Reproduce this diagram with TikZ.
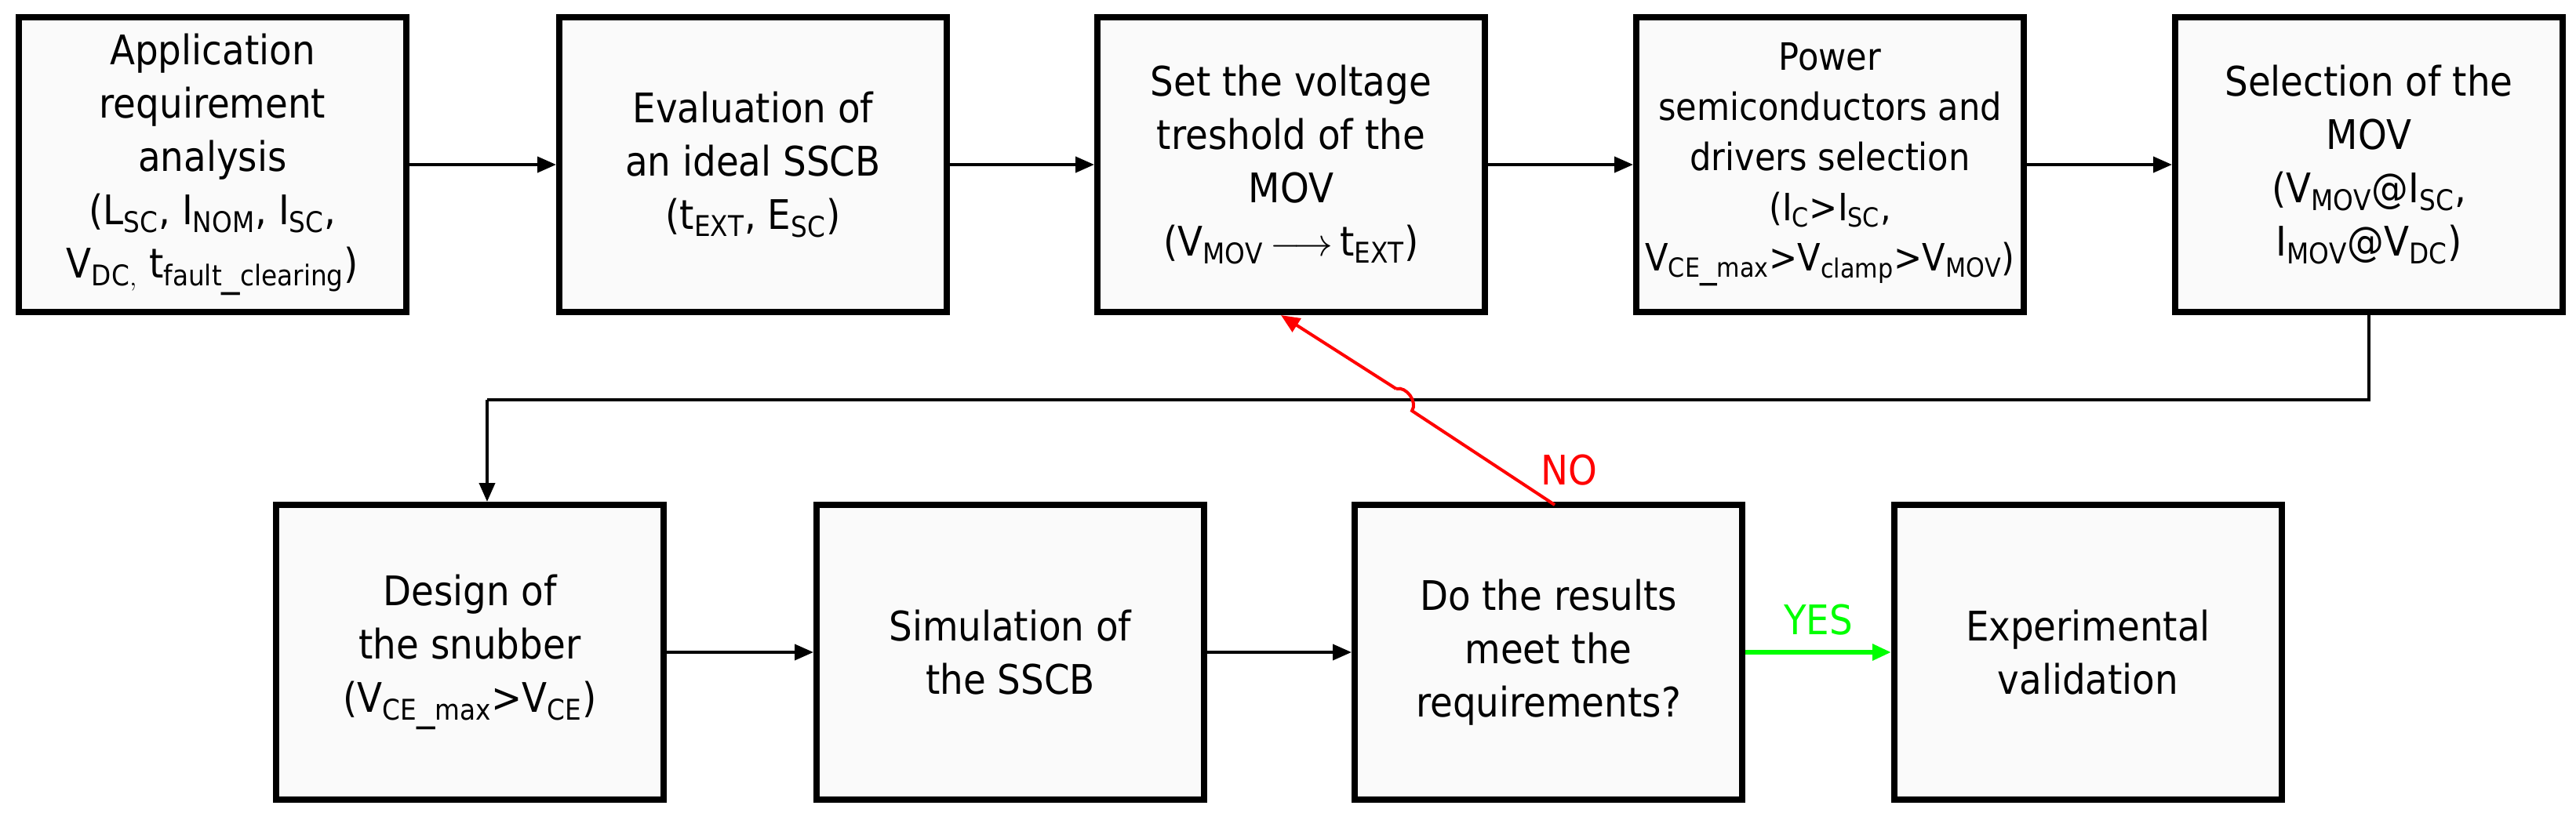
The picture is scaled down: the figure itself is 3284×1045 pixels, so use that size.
\documentclass[tikz,border=0pt]{standalone}
\usepackage{fontspec}
\setmainfont{DejaVu Sans Condensed}
\usetikzlibrary{arrows.meta}
\definecolor{boxfill}{rgb}{0.98,0.98,0.98}
\definecolor{nocolor}{rgb}{1,0,0}
\definecolor{yescolor}{rgb}{0,1,0}
\begin{document}
\begin{tikzpicture}[x=0.5pt,y=-0.5pt,
  stage/.style={draw=black,line width=4pt,fill=boxfill,minimum width=247pt,minimum height=188pt,
    align=center,inner sep=2pt,font=\fontsize{26}{34}\selectfont},
  flow/.style={-{Triangle[length=12pt,width=10pt]},line width=2pt}]
\useasboundingbox (0,0) rectangle (3284,1045);
% top row
\node[stage] (req) at (271,210) {Application\\requirement\\analysis\\(L$_{\rm SC}$, I$_{\rm NOM}$, I$_{\rm SC}$,\\V$_{\rm DC,}$ t$_{\rm fault\_clearing}$)};
\node[stage] (ideal) at (960,210) {Evaluation of\\an ideal SSCB\\(t$_{\rm EXT}$, E$_{\rm SC}$)};
\node[stage] (thr) at (1646,210) {Set the voltage\\treshold of the\\MOV\\(V$_{\rm MOV}$\,$\longrightarrow$\,t$_{\rm EXT}$)};
\node[stage,font=\fontsize{24}{32}\selectfont] (semi) at (2333,210) {Power\\semiconductors and\\drivers selection\\(I$_{\rm C}$>I$_{\rm SC}$,\\V$_{\rm CE\_max}$>V$_{\rm clamp}$>V$_{\rm MOV}$)};
\node[stage] (mov) at (3020,210) {Selection of the\\MOV\\(V$_{\rm MOV}$@I$_{\rm SC}$,\\I$_{\rm MOV}$@V$_{\rm DC}$)};
% bottom row
\node[stage] (snub) at (599,832) {Design of\\the snubber\\(V$_{\rm CE\_max}$>V$_{\rm CE}$)};
\node[stage] (sim) at (1288,832) {Simulation of\\the SSCB};
\node[stage] (check) at (1974,832) {Do the results\\meet the\\requirements?};
\node[stage] (exp) at (2662,832) {Experimental\\validation};
\coordinate (turn) at (3024,510);
\coordinate (back) at (621,510);
\draw[flow] (req) -- (ideal);
\draw[flow] (ideal) -- (thr);
\draw[flow] (thr) -- (semi);
\draw[flow] (semi) -- (mov);
\draw[line width=2pt] (mov.south) |- (back);
\draw[flow] (back) -- (snub.north -| back);
\draw[flow] (snub) -- (sim);
\draw[flow] (sim) -- (check);
\draw[flow,line width=3pt,draw=yescolor,-{Triangle[length=12pt,width=10pt,fill=yescolor]}] (check) -- node[above=6pt,text=yescolor,font=\fontsize{26}{30}\selectfont]{YES} (exp);
% NO loop back
\coordinate (noA) at (1982,644);
\coordinate (noB) at (1800,524);
\coordinate (noC) at (1780,496);
\coordinate (noD) at (1633,402);
\draw[line width=2pt,nocolor] (noA) -- (noB) to[bend right=70] (noC);
\draw[line width=2pt,nocolor,-{Triangle[length=12pt,width=10pt]}] (noC) -- (noD);
\node[text=nocolor,font=\fontsize{26}{30}\selectfont] (no) at (2000,600) {NO};
\end{tikzpicture}
\end{document}
